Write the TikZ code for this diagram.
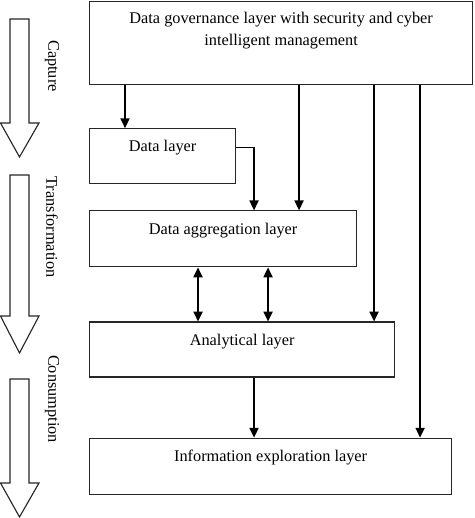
\documentclass[tikz,border=0pt]{standalone}
\usepackage{fontspec}
\setmainfont{Liberation Serif}
\usetikzlibrary{arrows.meta, positioning}

\begin{document}
\begin{tikzpicture}[x=0.025cm, y=-0.025cm, font=\fontsize{11.6}{15.6}\selectfont]
    \tikzset{
        layer/.style = {rectangle, draw=black!85, line width=0.8pt, inner sep=0pt, text height=8pt, text depth=14.4pt},
        line/.style = {draw=black, line width=1.1pt, -{Triangle[length=7pt,width=6.5pt]}},
        dline/.style = {line, {Triangle[length=7pt,width=6.5pt]}-{Triangle[length=7pt,width=6.5pt]}},
        flow/.style = {draw=black!85, line width=0.8pt, fill=white},
        phase/.style = {rotate=-90}
    }
    \useasboundingbox (0,0) rectangle (474,518);

    \node[layer, minimum width=9.575cm, minimum height=2.075cm, text depth=5pt, align=center, anchor=north west](gov) at (89,1){Data governance layer with security and cyber\\intelligent management};
    \node[layer, minimum width=3.65cm, minimum height=1.375cm](dl)[below right = 1.075cm and 0cm of gov.south west]{Data layer};
    \node[layer, minimum width=6.675cm, minimum height=1.4cm](agg)[below right = 0.65cm and 0cm of dl.south west]{Data aggregation layer};
    \node[layer, minimum width=7.625cm, minimum height=1.375cm](ana)[below right = 1.35cm and 0cm of agg.south west]{Analytical layer};
    \node[layer, minimum width=9.05cm, minimum height=1.4cm](info)[below right = 1.5cm and 0cm of ana.south west]{Information exploration layer};

    % phases on the left
    \draw[flow] (10,19) -- (29,19) -- (29,123) -- (39,123) -- (19.5,157) -- (0.5,123) -- (10,123) -- cycle;
    \draw[flow] (10,175) -- (29,175) -- (29,316) -- (39,316) -- (19.5,353) -- (0.5,316) -- (10,316) -- cycle;
    \draw[flow] (10,379) -- (29,379) -- (29,483) -- (39,483) -- (19.5,517) -- (0.5,483) -- (10,483) -- cycle;

    \node[phase](cap) at (52,66){Capture};
    \node[phase](trans) at (52,227){Transformation};
    \node[phase](cons) at (52,399){Consumption};

    \path [line] ([xshift=0.9cm]gov.south west) -- ([xshift=0.9cm]dl.north west);
    \path [line] ([yshift=0.2125cm]dl.east) -| ([xshift=4.125cm]agg.north west);
    \path [line] ([xshift=5.25cm]gov.south west) -- ([xshift=5.25cm]agg.north west);
    \path [line] ([xshift=7.125cm]gov.south west) -- ([xshift=7.125cm]ana.north west);
    \path [line] ([xshift=8.275cm]gov.south west) -- ([xshift=8.275cm]info.north west);

    \path [dline] ([xshift=2.725cm]agg.south west) -- ([xshift=2.725cm]ana.north west);
    \path [dline] ([xshift=4.475cm]agg.south west) -- ([xshift=4.475cm]ana.north west);

    \path [line] ([xshift=4.125cm]ana.south west) -- ([xshift=4.125cm]info.north west);

\end{tikzpicture}
\end{document}
